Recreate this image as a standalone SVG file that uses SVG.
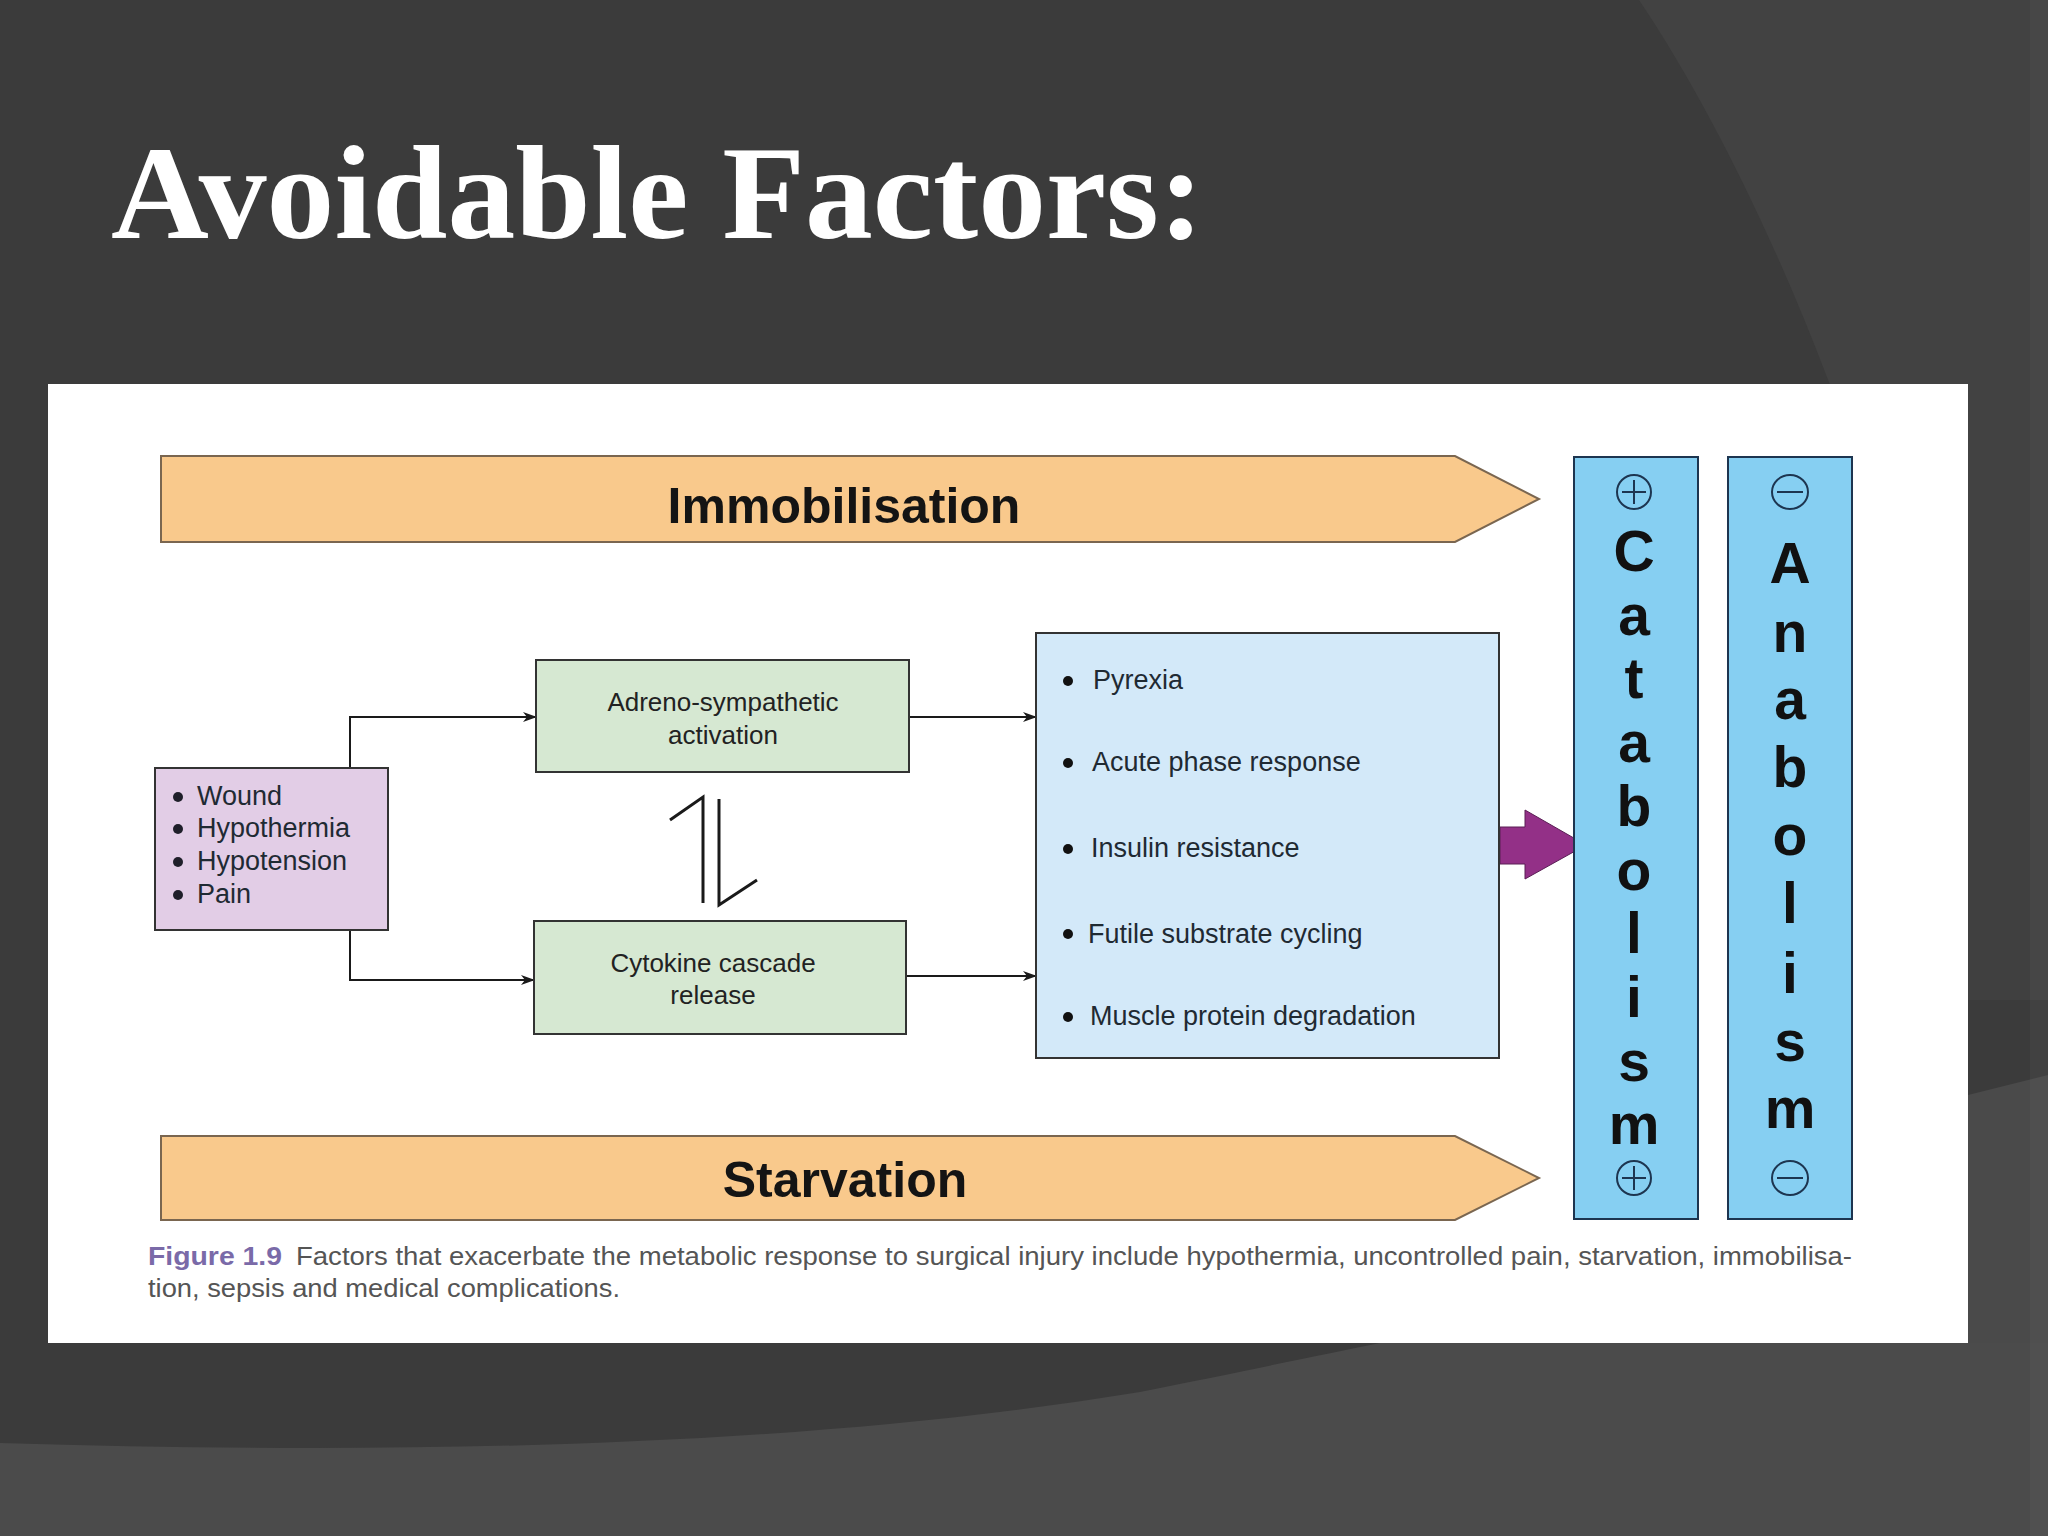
<svg xmlns="http://www.w3.org/2000/svg" width="2048" height="1536" viewBox="0 0 2048 1536">
  <defs>
    <marker id="arr" viewBox="0 0 14 10" refX="13" refY="5" markerWidth="14" markerHeight="10" markerUnits="userSpaceOnUse" orient="auto">
      <path d="M0,0 L14,5 L0,10 L4,5 Z" fill="#1a1a1a"/>
    </marker>
    <style>
      .sans { font-family: "Liberation Sans", Arial, sans-serif; }
      .band { fill: #f9c98c; stroke: #7a6650; stroke-width: 2; }
      .bandtxt { font-family: "Liberation Sans", Arial, sans-serif; font-weight: bold; font-size: 50px; fill: #141414; text-anchor: middle; }
      .green { fill: #d6e8d2; stroke: #333; stroke-width: 2; }
      .gtxt { font-family: "Liberation Sans", Arial, sans-serif; font-size: 26px; fill: #222; text-anchor: middle; }
      .ltxt { font-family: "Liberation Sans", Arial, sans-serif; font-size: 27px; fill: #1f2a33; }
      .col { fill: #86cff2; stroke: #1d3550; stroke-width: 2; }
      .ctxt { font-family: "Liberation Sans", Arial, sans-serif; font-weight: bold; font-size: 57px; fill: #111; text-anchor: middle; }
      .sign { fill: none; stroke: #1d3550; stroke-width: 2; }
      .conn { fill: none; stroke: #1a1a1a; stroke-width: 2; }
    </style>
  </defs>

  <!-- background -->
  <rect x="0" y="0" width="2048" height="1536" fill="#3b3b3b"/>
  <path d="M1639,0 C1740,150 1840,380 1900,600 L2048,600 L2048,0 Z" fill="#424242"/>
  <path d="M1900,600 C1930,750 1960,900 1968,1000 L2048,1000 L2048,600 Z" fill="#404040"/>
  <path d="M1968,1095 L2048,1075 L2048,1536 L1968,1536 Z" fill="#4a4a4a"/>
  <path d="M0,1443 C400,1455 800,1448 1140,1392 C1250,1370 1320,1355 1380,1343 L2048,1343 L2048,1536 L0,1536 Z" fill="#4b4b4b"/>
  <rect x="2030" y="0" width="18" height="1536" fill="#ffffff" opacity="0.03"/>

  <!-- title -->
  <text x="111" y="238" font-family="'Liberation Serif', 'Times New Roman', serif" font-weight="bold" font-size="134" fill="#ffffff" textLength="1093" lengthAdjust="spacingAndGlyphs">Avoidable Factors:</text>

  <!-- white panel -->
  <rect x="48" y="384" width="1920" height="959" fill="#ffffff"/>

  <!-- connectors -->
  <g id="connectors">
    <path class="conn" d="M350,768 L350,717 L536,717" marker-end="url(#arr)"/>
    <path class="conn" d="M350,930 L350,980 L534,980" marker-end="url(#arr)"/>
    <path class="conn" d="M909,717 L1036,717" marker-end="url(#arr)"/>
    <path class="conn" d="M906,976 L1036,976" marker-end="url(#arr)"/>
    <g id="equilibrium" fill="none" stroke="#1a1a1a" stroke-width="3">
      <path d="M670,820 L703,797 L703,903"/>
      <path d="M719,799 L719,905 L757,880"/>
    </g>
    <polygon id="big-arrow" points="1500,827 1525,827 1525,810 1586,845 1525,879 1525,864 1500,864" fill="#933087" stroke="#5a1e55" stroke-width="1"/>
  </g>

  <!-- Immobilisation band -->
  <g id="immobilisation">
    <polygon class="band" points="161,456 1455,456 1539,499 1455,542 161,542"/>
    <text class="bandtxt" x="844" y="523">Immobilisation</text>
  </g>

  <!-- Starvation band -->
  <g id="starvation">
    <polygon class="band" points="161,1136 1455,1136 1539,1178 1455,1220 161,1220"/>
    <text class="bandtxt" x="845" y="1197">Starvation</text>
  </g>

  <!-- triggers box -->
  <g id="triggers">
    <rect x="155" y="768" width="233" height="162" fill="#e2cde6" stroke="#333" stroke-width="2"/>
    <g fill="#1f1f2a">
      <circle cx="178" cy="797" r="5"/>
      <circle cx="178" cy="829" r="5"/>
      <circle cx="178" cy="862" r="5"/>
      <circle cx="178" cy="895" r="5"/>
    </g>
    <text class="ltxt" x="197" y="805">Wound</text>
    <text class="ltxt" x="197" y="837">Hypothermia</text>
    <text class="ltxt" x="197" y="870">Hypotension</text>
    <text class="ltxt" x="197" y="903">Pain</text>
  </g>

  <!-- Adreno-sympathetic -->
  <g id="adreno">
    <rect class="green" x="536" y="660" width="373" height="112"/>
    <text class="gtxt" x="723" y="711">Adreno-sympathetic</text>
    <text class="gtxt" x="723" y="744">activation</text>
  </g>

  <!-- Cytokine -->
  <g id="cytokine">
    <rect class="green" x="534" y="921" width="372" height="113"/>
    <text class="gtxt" x="713" y="972">Cytokine cascade</text>
    <text class="gtxt" x="713" y="1004">release</text>
  </g>

  <!-- effects box -->
  <g id="effects">
    <rect x="1036" y="633" width="463" height="425" fill="#d3e9f9" stroke="#333" stroke-width="2"/>
    <g fill="#111">
      <circle cx="1068" cy="681" r="5"/>
      <circle cx="1068" cy="763" r="5"/>
      <circle cx="1068" cy="849" r="5"/>
      <circle cx="1068" cy="934" r="5"/>
      <circle cx="1068" cy="1017" r="5"/>
    </g>
    <text class="ltxt" x="1093" y="689">Pyrexia</text>
    <text class="ltxt" x="1092" y="771">Acute phase response</text>
    <text class="ltxt" x="1091" y="857">Insulin resistance</text>
    <text class="ltxt" x="1088" y="943">Futile substrate cycling</text>
    <text class="ltxt" x="1090" y="1025">Muscle protein degradation</text>
  </g>

  <!-- Catabolism column -->
  <g id="catabolism">
    <rect class="col" x="1574" y="457" width="124" height="762"/>
    <circle class="sign" cx="1634" cy="492" r="17"/>
    <path class="sign" d="M1622,492 H1646 M1634,480 V504"/>
    <text class="ctxt" x="1634" y="571">C</text>
    <text class="ctxt" x="1634" y="635">a</text>
    <text class="ctxt" x="1634" y="698">t</text>
    <text class="ctxt" x="1634" y="762">a</text>
    <text class="ctxt" x="1634" y="826">b</text>
    <text class="ctxt" x="1634" y="890">o</text>
    <text class="ctxt" x="1634" y="953">l</text>
    <text class="ctxt" x="1634" y="1017">i</text>
    <text class="ctxt" x="1634" y="1081">s</text>
    <text class="ctxt" x="1634" y="1144">m</text>
    <circle class="sign" cx="1634" cy="1178" r="17"/>
    <path class="sign" d="M1622,1178 H1646 M1634,1166 V1190"/>
  </g>

  <!-- Anabolism column -->
  <g id="anabolism">
    <rect class="col" x="1728" y="457" width="124" height="762"/>
    <ellipse class="sign" cx="1790" cy="492" rx="18" ry="17"/>
    <path class="sign" d="M1777,492 H1803"/>
    <text class="ctxt" x="1790" y="583">A</text>
    <text class="ctxt" x="1790" y="652">n</text>
    <text class="ctxt" x="1790" y="719">a</text>
    <text class="ctxt" x="1790" y="787">b</text>
    <text class="ctxt" x="1790" y="855">o</text>
    <text class="ctxt" x="1790" y="923">l</text>
    <text class="ctxt" x="1790" y="993">i</text>
    <text class="ctxt" x="1790" y="1061">s</text>
    <text class="ctxt" x="1790" y="1128">m</text>
    <ellipse class="sign" cx="1790" cy="1178" rx="18" ry="17"/>
    <path class="sign" d="M1777,1178 H1803"/>
  </g>

  <!-- caption -->
  <g id="caption">
    <text x="148" y="1265" font-family="'Liberation Sans', Arial, sans-serif" font-weight="bold" font-size="25" fill="#7a6aa8" textLength="134" lengthAdjust="spacingAndGlyphs">Figure 1.9</text>
    <text x="296" y="1265" font-family="'Liberation Sans', Arial, sans-serif" font-size="25" fill="#555" textLength="1556" lengthAdjust="spacingAndGlyphs">Factors that exacerbate the metabolic response to surgical injury include hypothermia, uncontrolled pain, starvation, immobilisa-</text>
    <text x="148" y="1297" font-family="'Liberation Sans', Arial, sans-serif" font-size="25" fill="#555" textLength="472" lengthAdjust="spacingAndGlyphs">tion, sepsis and medical complications.</text>
  </g>
</svg>
